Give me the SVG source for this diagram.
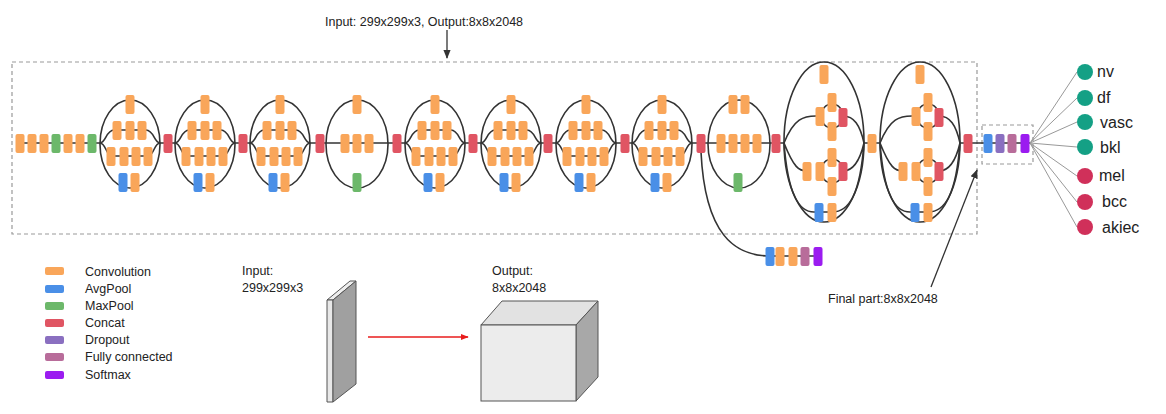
<svg xmlns="http://www.w3.org/2000/svg" xmlns:xlink="http://www.w3.org/1999/xlink" width="1166" height="414" viewBox="0 0 1166 414">
<style>
.b{width:9px;height:19px;rx:2px;ry:2px}
.o{fill:#f9a65a}.a{fill:#4a8fe7}.m{fill:#6cb86a}.c{fill:#e05563}.d{fill:#8a6fc0}.f{fill:#b86c9a}.s{fill:#9b1cf0}
.ln{fill:none;stroke:#333;stroke-width:1.6}
.t{font-family:"Liberation Sans",Arial,sans-serif;font-size:12.5px;fill:#222}
.big{font-family:"Liberation Sans",Arial,sans-serif;font-size:16px;fill:#222}
.dash{fill:none;stroke:#999;stroke-width:1.2;stroke-dasharray:4 3}
.g{fill:#14a085}.r{fill:#d0305a}
.w{stroke:#999;stroke-width:1}
</style>
<defs>
<marker id="ah" viewBox="0 0 10 10" refX="9" refY="5" markerWidth="7" markerHeight="7" orient="auto"><path d="M0,1 L10,5 L0,9 z" fill="#333"/></marker>
<marker id="rh" viewBox="0 0 10 10" refX="9" refY="5" markerWidth="6" markerHeight="6" orient="auto"><path d="M0,1 L10,5 L0,9 z" fill="#e81c1c"/></marker>
<g id="modA">
<ellipse class="ln" cx="0" cy="144" rx="30" ry="44"/>
<path class="ln" d="M-30,143 C-24,143 -24,130 -16,130 H16 C24,130 24,143 30,143 M-30,143 C-24,143 -24,156 -18,156 H18 C24,156 24,143 30,143"/>
<rect class="b o" x="-4.5" y="95"/>
<rect class="b o" x="-17.5" y="121"/><rect class="b o" x="-4.5" y="121"/><rect class="b o" x="7.5" y="121"/>
<rect class="b o" x="-23.5" y="147"/><rect class="b o" x="-10.5" y="147"/><rect class="b o" x="1.5" y="147"/><rect class="b o" x="13.5" y="147"/>
<rect class="b a" x="-11.5" y="173"/><rect class="b o" x="0.5" y="173"/>
</g>
<g id="modBig">
<ellipse class="ln" cx="0" cy="142" rx="40" ry="80"/>
<path class="ln" d="M-40,143 C-30,118 -20,116 -8,116 M19,116 C30,116 36,125 40,143 M-40,143 C-30,168 -25,171 -17,171 M19,171 C30,171 36,160 40,143 M-40,143 C-36,195 -25,212 -10,212 H8 C25,212 36,195 40,143"/>
<ellipse class="ln" cx="8" cy="116" rx="11" ry="12"/>
<ellipse class="ln" cx="8" cy="171" rx="11" ry="12"/>
<rect class="b o" x="-4.5" y="65"/>
<rect class="b o" x="-8.5" y="107"/><rect class="b o" x="3.5" y="93"/><rect class="b o" x="3.5" y="122"/><rect class="b c" x="14.5" y="108"/>
<rect class="b o" x="-21.5" y="162"/><rect class="b o" x="-8.5" y="162"/><rect class="b o" x="3.5" y="148"/><rect class="b o" x="3.5" y="177"/><rect class="b c" x="14.5" y="162"/>
<rect class="b a" x="-9.5" y="203"/><rect class="b o" x="3.5" y="203"/>
</g>
</defs>

<text class="t" x="325" y="26">Input: 299x299x3, Output:8x8x2048</text>
<rect class="dash" x="12" y="62" width="965" height="172"/>
<rect class="dash" x="982" y="125" width="51" height="39"/>

<g id="connectors">
<path class="ln" d="M16,143 H100 M160,143 H175 M235,143 H250 M310,143 H405 M465,143 H481 M541,143 H556 M616,143 H632 M692,143 H784 M864,143 H880 M959,143 H1030"/>
<path class="ln" d="M701,152 C705,235 735,256 770,256 H818"/>
<path d="M1030,143 L1077,72 M1030,143 L1077,98 M1030,143 L1077,122 M1030,143 L1077,147 M1030,143 L1077,176 M1030,143 L1077,202 M1030,143 L1077,227" class="w"/>
<line x1="447" y1="30" x2="447" y2="58" stroke="#333" stroke-width="1.3" marker-end="url(#ah)"/>
<line x1="931" y1="287" x2="977" y2="170" stroke="#333" stroke-width="1.3" marker-end="url(#ah)"/>
<line x1="368" y1="337" x2="468" y2="337" stroke="#e81c1c" stroke-width="1.3" marker-end="url(#rh)"/>
</g>

<g id="stem">
<rect class="b o" x="15.5" y="134"/><rect class="b o" x="27.5" y="134"/><rect class="b o" x="39.5" y="134"/><rect class="b m" x="51.5" y="134"/><rect class="b o" x="63.5" y="134"/><rect class="b o" x="75.5" y="134"/><rect class="b m" x="87.5" y="134"/>
</g>
<g id="m1" transform="translate(130,0)"><use xlink:href="#modA"/></g>
<g id="m2" transform="translate(205,0)"><use xlink:href="#modA"/></g>
<g id="m3" transform="translate(280,0)"><use xlink:href="#modA"/></g>
<g id="m4">
<ellipse class="ln" cx="357" cy="144" rx="31" ry="44"/>
<rect class="b o" x="352.5" y="95"/>
<rect class="b o" x="340.5" y="134"/><rect class="b o" x="352.5" y="134"/><rect class="b o" x="364.5" y="134"/>
<rect class="b m" x="352.5" y="173"/>
</g>
<g id="m5" transform="translate(435,0)"><use xlink:href="#modA"/></g>
<g id="m6" transform="translate(511,0)"><use xlink:href="#modA"/></g>
<g id="m7" transform="translate(586,0)"><use xlink:href="#modA"/></g>
<g id="m8" transform="translate(662,0)"><use xlink:href="#modA"/></g>
<g id="m9">
<ellipse class="ln" cx="739" cy="144" rx="31" ry="44"/>
<rect class="b o" x="728.5" y="95"/><rect class="b o" x="740.5" y="95"/>
<rect class="b o" x="716.5" y="134"/><rect class="b o" x="728.5" y="134"/><rect class="b o" x="740.5" y="134"/><rect class="b o" x="752.5" y="134"/>
<rect class="b m" x="733.5" y="173"/>
</g>
<g id="m10" transform="translate(824,0)"><use xlink:href="#modBig"/></g>
<g id="mid"><rect class="b o" x="867.5" y="134"/></g>
<g id="m11" transform="translate(920,0)"><use xlink:href="#modBig"/></g>
<g id="concats">
<rect class="b c" x="163.5" y="134"/><rect class="b c" x="238.5" y="134"/><rect class="b c" x="315.5" y="134"/><rect class="b c" x="392.5" y="134"/><rect class="b c" x="468.5" y="134"/><rect class="b c" x="543.5" y="134"/><rect class="b c" x="620.5" y="134"/><rect class="b c" x="696.5" y="134"/><rect class="b c" x="771.5" y="134"/><rect class="b c" x="963.5" y="134"/>
</g>
<g id="final">
<rect class="b a" x="983.5" y="134"/><rect class="b d" x="995.5" y="134"/><rect class="b f" x="1007.5" y="134"/><rect class="b s" x="1020.5" y="134"/>
</g>
<g id="aux">
<rect class="b a" x="765.5" y="247"/><rect class="b o" x="775.5" y="247"/><rect class="b o" x="788.5" y="247"/><rect class="b f" x="800.5" y="247"/><rect class="b s" x="813.5" y="247"/>
</g>

<g id="outputs">
<circle class="g" cx="1085" cy="72" r="8"/><text class="big" x="1097" y="77">nv</text>
<circle class="g" cx="1085" cy="98" r="8"/><text class="big" x="1097" y="103">df</text>
<circle class="g" cx="1085" cy="122" r="8"/><text class="big" x="1100" y="128">vasc</text>
<circle class="g" cx="1085" cy="147" r="8"/><text class="big" x="1100" y="153">bkl</text>
<circle class="r" cx="1085" cy="176" r="8"/><text class="big" x="1099" y="181">mel</text>
<circle class="r" cx="1085" cy="202" r="8"/><text class="big" x="1102" y="207">bcc</text>
<circle class="r" cx="1085" cy="227" r="8"/><text class="big" x="1102" y="233">akiec</text>
</g>

<text class="t" x="828" y="303">Final part:8x8x2048</text>

<g id="legend">
<rect class="o" x="45" y="267" width="19" height="8" rx="2"/><text class="t" x="85" y="276">Convolution</text>
<rect class="a" x="45" y="285" width="19" height="8" rx="2"/><text class="t" x="85" y="293">AvgPool</text>
<rect class="m" x="45" y="302" width="19" height="8" rx="2"/><text class="t" x="85" y="310">MaxPool</text>
<rect class="c" x="45" y="319" width="19" height="8" rx="2"/><text class="t" x="85" y="327">Concat</text>
<rect class="d" x="45" y="336" width="19" height="8" rx="2"/><text class="t" x="85" y="344">Dropout</text>
<rect class="f" x="45" y="353" width="19" height="8" rx="2"/><text class="t" x="85" y="361">Fully connected</text>
<rect class="s" x="45" y="371" width="19" height="8" rx="2"/><text class="t" x="85" y="379">Softmax</text>
</g>

<g id="inputslab">
<text class="t" x="242" y="275">Input:</text><text class="t" x="242" y="292">299x299x3</text>
<polygon points="327,300 350,281 356,281 333,300" fill="#eee" stroke="#555" stroke-width="1"/>
<polygon points="327,300 333,300 333,402 327,402" fill="#e8e8e8" stroke="#555" stroke-width="1"/>
<polygon points="333,300 356,281 356,384 333,402" fill="#a0a0a0" stroke="#555" stroke-width="1"/>
</g>
<g id="outputcube">
<text class="t" x="492" y="275">Output:</text><text class="t" x="492" y="292">8x8x2048</text>
<polygon points="481,325 502,301 598,301 576,325" fill="#e2e2e2" stroke="#555" stroke-width="1"/>
<polygon points="576,325 598,301 598,377 576,401" fill="#a8a8a8" stroke="#555" stroke-width="1"/>
<rect x="481" y="325" width="95" height="76" fill="#ececec" stroke="#555" stroke-width="1"/>
</g>
</svg>
